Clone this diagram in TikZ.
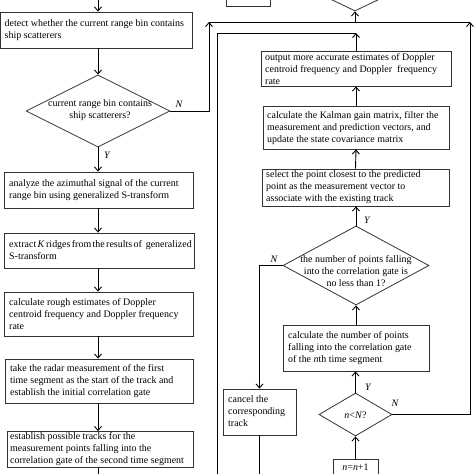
\documentclass[tikz,border=0pt]{standalone}
\usepackage{fontspec}
\setmainfont{Liberation Serif}
\usetikzlibrary{arrows.meta,shapes.geometric}
\begin{document}
\begin{tikzpicture}[x=1bp,y=-1bp,
  every node/.style={font=\fontsize{10}{12}\selectfont},
  box/.style={draw=black!80, line width=0.8bp, rectangle, inner sep=0pt},
  dia/.style={draw=black!80, line width=0.8bp, diamond, inner sep=0pt},
  txt/.style={align=left, inner sep=0pt, anchor=west},
  ctxt/.style={align=center, inner sep=0pt},
  lab/.style={font=\fontsize{10}{12}\selectfont\itshape, inner sep=0pt},
  conn/.style={line width=0.9bp},
  arr/.style={conn, -{Straight Barb[length=4bp,width=7bp]}},
]
\useasboundingbox (0,0) rectangle (474,474);
\clip (0,0) rectangle (474,474);

% ---------- left column ----------
\node[box, minimum width=192bp, minimum height=36bp] (b1) at (96,30) {};
\node[txt] (t1) at (4.5,30) {detect whether the current range bin contains\\ship scatterers};

\node[dia, minimum width=144bp, minimum height=72bp] (d1) at (98,111) {};
\node[ctxt] (dt1) at (100,110.5) {current range bin contains\\ship scatterers?};

\node[box, minimum width=189bp, minimum height=36bp] (b2) at (98.5,190) {};
\node[txt] (t2) at (9,190) {analyze the azimuthal signal of the current\\range bin using generalized S-transform};

\node[box, minimum width=190bp, minimum height=35bp] (b3) at (99,250.5) {};
\node[txt] (t3) at (9,250.5) {{\spaceskip=0.14em\relax extract \textit{K} ridges from the results of\hspace{0.25em} generalized}\\S-transform};

\node[box, minimum width=189bp, minimum height=44bp] (b4) at (98.5,314) {};
\node[txt] (t4) at (9,314) {calculate rough estimates of Doppler\\centroid frequency and Doppler frequency\\rate};

\node[box, minimum width=188bp, minimum height=44bp] (b5) at (99,381) {};
\node[txt] (t5) at (10,381.5) {take the radar measurement of the first\\time segment as the start of the track and\\establish the initial correlation gate};

\node[box, minimum width=186bp, minimum height=36bp] (b6) at (100,449.5) {};
\node[txt] (t6) at (10,449.5) {establish possible tracks for the\\measurement points falling into the\\correlation gate of the second time segment};

% ---------- right column ----------
\node[box, minimum width=44bp, minimum height=30bp] (tb) at (248,-9) {};
\node[dia, minimum width=140bp, minimum height=67bp] (td) at (355,-22.5) {};

\node[box, minimum width=190bp, minimum height=35bp] (r1) at (356,68.5) {};
\node[txt] (rt1) at (265,69) {output more accurate estimates of Doppler\\centroid frequency and Doppler~ frequency\\rate};

\node[box, minimum width=186bp, minimum height=43bp] (r2) at (356,127.5) {};
\node[txt] (rt2) at (267,128) {calculate the Kalman gain matrix, filter the\\measurement and prediction vectors, and\\update the state covariance matrix};

\node[box, minimum width=187bp, minimum height=37bp] (r3) at (355.5,187.5) {};
\node[txt] (rt3) at (266,187.5) {select the point closest to the predicted\\point as the measurement vector to\\associate with the existing track};

\node[dia, minimum width=146bp, minimum height=79bp] (d2) at (356,265.5) {};
\node[ctxt] (dt2) at (356,271) {the number of points falling\\into the correlation gate is\\no less than 1?};

\node[box, minimum width=146bp, minimum height=46bp] (r4) at (356,348) {};
\node[txt] (rt4) at (288,348) {calculate the number of points\\falling into the correlation gate\\of the \textit{n}th time segment};

\node[dia, minimum width=73bp, minimum height=43bp] (d4) at (355.5,414.5) {};
\node[ctxt] (dt4) at (355.5,415) {\textit{n}<\textit{N}?};

\node[box, minimum width=45bp, minimum height=30bp] (r5) at (355.5,474) {};
\node[ctxt] (rt5) at (355.5,467.5) {\textit{n}=\textit{n}+1};

\node[box, minimum width=73bp, minimum height=46bp] (cx) at (259.5,412) {};
\node[txt] (ct) at (228,411) {cancel the\\corresponding\\track};

% ---------- connectors ----------
\coordinate (in0) at (98,-5);
\coordinate (j1) at (209,22);
\coordinate (j2) at (470,22);
\coordinate (k1) at (217,33);
\coordinate (k2) at (217,480);
\coordinate (outL) at (98,480);

\draw[arr] (in0) -- (in0 |- b1.north);
\draw[arr] (d1.north |- b1.south) -- (d1.north);
\draw[arr] (d1.south) -- (d1.south |- b2.north);
\draw[arr] (d1.south |- b2.south) -- (d1.south |- b3.north);
\draw[arr] (d1.south |- b3.south) -- (d1.south |- b4.north);
\draw[arr] (d1.south |- b4.south) -- (d1.south |- b5.north);
\draw[arr] (d1.south |- b5.south) -- (d1.south |- b6.north);
\draw[conn] (outL |- b6.south) -- (outL);

\draw[arr] (d1.east) -| (j1);
\draw[arr] (d4.east) -| (j2);
\draw[conn] (j1) -- (j2);
\draw[arr] (td.south |- j1) -- (td.south);

\draw[arr] (r1.north) -- (r1.north |- k1);
\draw[conn] (r1.north |- k1) -- (k1) -- (k2);
\draw[arr] (r2.north) -- (r1.south);
\draw[arr] (r3.north) -- (r2.south);
\draw[arr] (d2.north) -- (d2.north |- r3.south);
\draw[arr] (d2.west) -| (cx.north);
\draw[arr] (r4.north) -- (d2.south);
\draw[arr] (d4.north) -- (d4.north |- r4.south);
\draw[arr] (r5.north) -- (d4.south);
\draw[conn] (cx.south) -- (cx.south |- k2);

% ---------- labels ----------
\node[lab] (lN1) at (179,104) {N};
\node[lab] (lY1) at (107,155) {Y};
\node[lab] (lY2) at (367,220) {Y};
\node[lab] (lN2) at (274,259) {N};
\node[lab] (lY3) at (368,387) {Y};
\node[lab] (lN3) at (395,403) {N};
\end{tikzpicture}
\end{document}
